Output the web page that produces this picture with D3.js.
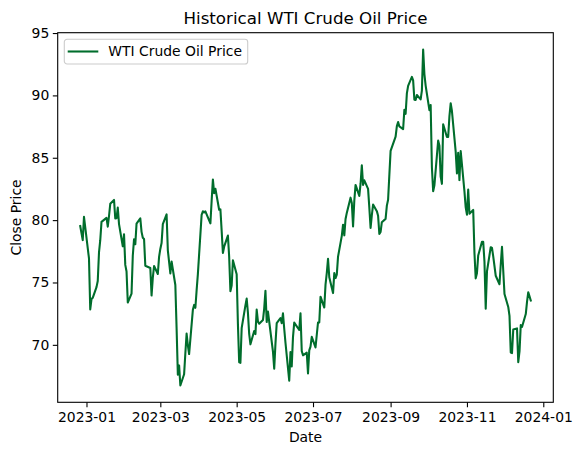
<!DOCTYPE html>
<html>
<head>
<meta charset="utf-8">
<script src="https://cdn.jsdelivr.net/npm/d3@7"></script>
<style>
  body { margin: 0; background: #fff; }
  svg { display: block; font-family: "DejaVu Sans", sans-serif; }
</style>
</head>
<body>
<svg width="581" height="455"></svg>
<script>
// Trading days and closing prices
const dates = [
  "2022-12-27", "2022-12-28", "2022-12-29", "2022-12-30",
  "2023-01-03", "2023-01-04", "2023-01-05", "2023-01-06", "2023-01-09", "2023-01-10", "2023-01-11", "2023-01-12", "2023-01-13", "2023-01-17", "2023-01-18", "2023-01-19", "2023-01-20", "2023-01-23", "2023-01-24", "2023-01-25", "2023-01-26", "2023-01-27", "2023-01-30", "2023-01-31",
  "2023-02-01", "2023-02-02", "2023-02-03", "2023-02-06", "2023-02-07", "2023-02-08", "2023-02-09", "2023-02-10", "2023-02-13", "2023-02-14", "2023-02-15", "2023-02-16", "2023-02-17", "2023-02-21", "2023-02-22", "2023-02-23", "2023-02-24", "2023-02-27", "2023-02-28",
  "2023-03-01", "2023-03-02", "2023-03-03", "2023-03-06", "2023-03-07", "2023-03-08", "2023-03-09", "2023-03-10", "2023-03-13", "2023-03-14", "2023-03-15", "2023-03-16", "2023-03-17", "2023-03-20", "2023-03-21", "2023-03-22", "2023-03-23", "2023-03-24", "2023-03-27", "2023-03-28", "2023-03-29", "2023-03-30", "2023-03-31",
  "2023-04-03", "2023-04-04", "2023-04-05", "2023-04-06", "2023-04-10", "2023-04-11", "2023-04-12", "2023-04-13", "2023-04-14", "2023-04-17", "2023-04-18", "2023-04-19", "2023-04-20", "2023-04-21", "2023-04-24", "2023-04-25", "2023-04-26", "2023-04-27", "2023-04-28",
  "2023-05-01", "2023-05-02", "2023-05-03", "2023-05-04", "2023-05-05", "2023-05-08", "2023-05-09", "2023-05-10", "2023-05-11", "2023-05-12", "2023-05-15", "2023-05-16", "2023-05-17", "2023-05-18", "2023-05-19", "2023-05-22", "2023-05-23", "2023-05-24", "2023-05-25", "2023-05-26", "2023-05-30", "2023-05-31",
  "2023-06-01", "2023-06-02", "2023-06-05", "2023-06-06", "2023-06-07", "2023-06-08", "2023-06-09", "2023-06-12", "2023-06-13", "2023-06-14", "2023-06-15", "2023-06-16", "2023-06-20", "2023-06-21", "2023-06-22", "2023-06-23", "2023-06-26", "2023-06-27", "2023-06-28", "2023-06-29", "2023-06-30",
  "2023-07-03", "2023-07-05", "2023-07-06", "2023-07-07", "2023-07-10", "2023-07-11", "2023-07-12", "2023-07-13", "2023-07-14", "2023-07-17", "2023-07-18", "2023-07-19", "2023-07-20", "2023-07-21", "2023-07-24", "2023-07-25", "2023-07-26", "2023-07-27", "2023-07-28", "2023-07-31",
  "2023-08-01", "2023-08-02", "2023-08-03", "2023-08-04", "2023-08-07", "2023-08-08", "2023-08-09", "2023-08-10", "2023-08-11", "2023-08-14", "2023-08-15", "2023-08-16", "2023-08-17", "2023-08-18", "2023-08-21", "2023-08-22", "2023-08-23", "2023-08-24", "2023-08-25", "2023-08-28", "2023-08-29", "2023-08-30", "2023-08-31",
  "2023-09-01", "2023-09-05", "2023-09-06", "2023-09-07", "2023-09-08", "2023-09-11", "2023-09-12", "2023-09-13", "2023-09-14", "2023-09-15", "2023-09-18", "2023-09-19", "2023-09-20", "2023-09-21", "2023-09-22", "2023-09-25", "2023-09-26", "2023-09-27", "2023-09-28", "2023-09-29",
  "2023-10-02", "2023-10-03", "2023-10-04", "2023-10-05", "2023-10-06", "2023-10-09", "2023-10-10", "2023-10-11", "2023-10-12", "2023-10-13", "2023-10-16", "2023-10-17", "2023-10-18", "2023-10-19", "2023-10-20", "2023-10-23", "2023-10-24", "2023-10-25", "2023-10-26", "2023-10-27", "2023-10-30", "2023-10-31",
  "2023-11-01", "2023-11-02", "2023-11-03", "2023-11-06", "2023-11-07", "2023-11-08", "2023-11-09", "2023-11-10", "2023-11-13", "2023-11-14", "2023-11-15", "2023-11-16", "2023-11-17", "2023-11-20", "2023-11-21", "2023-11-22", "2023-11-24", "2023-11-27", "2023-11-28", "2023-11-29", "2023-11-30",
  "2023-12-01", "2023-12-04", "2023-12-05", "2023-12-06", "2023-12-07", "2023-12-08", "2023-12-11", "2023-12-12", "2023-12-13", "2023-12-14", "2023-12-15", "2023-12-18", "2023-12-19", "2023-12-20", "2023-12-21", "2023-12-22"
];

const closes = [
  79.53, 78.96, 78.40, 80.26,
  76.93, 72.84, 73.67, 73.77, 74.63, 75.12, 77.41, 78.39, 79.86, 80.18, 79.48, 80.33, 81.31, 81.62, 80.13, 80.15, 81.01, 79.68, 77.90, 78.87,
  76.41, 75.88, 73.39, 74.11, 77.14, 78.47, 78.06, 79.72, 80.14, 79.06, 78.59, 78.49, 76.34, 76.16, 73.95, 75.39, 76.32, 75.68, 77.05,
  77.69, 78.16, 79.68, 80.46, 77.58, 76.66, 75.72, 76.68, 74.80, 71.33, 67.61, 68.35, 66.74, 67.64, 69.33, 70.90, 69.96, 69.26, 72.81, 73.20, 72.97, 74.37, 75.67,
  80.42, 80.71, 80.61, 80.70, 79.74, 81.53, 83.26, 82.16, 82.52, 80.83, 80.86, 79.16, 77.37, 77.87, 78.76, 77.07, 74.30, 74.76, 76.78,
  75.66, 71.66, 68.60, 68.56, 71.34, 73.16, 73.71, 72.56, 70.87, 70.04, 71.11, 70.86, 72.83, 71.86, 71.69, 71.99, 72.91, 74.34, 71.83, 72.67, 69.46, 68.09,
  70.10, 71.74, 72.15, 71.74, 72.53, 71.29, 70.17, 67.12, 69.42, 68.27, 70.62, 71.78, 71.19, 72.53, 69.51, 69.16, 69.37, 67.70, 69.56, 69.86, 70.64,
  69.79, 71.79, 71.80, 73.86, 72.99, 74.83, 75.75, 76.89, 75.42, 74.15, 75.75, 75.35, 75.63, 77.07, 78.74, 79.63, 78.78, 80.09, 80.58, 81.80,
  81.37, 79.49, 81.55, 82.82, 81.94, 82.92, 84.40, 82.82, 83.19, 82.51, 80.99, 79.38, 80.39, 81.25, 80.72, 80.35, 78.89, 79.05, 79.83, 80.10, 81.16, 81.63, 83.63,
  85.55, 86.69, 87.54, 87.87, 87.51, 87.29, 88.84, 88.52, 90.16, 90.77, 91.48, 91.20, 89.66, 89.63, 90.03, 89.68, 90.39, 93.68, 91.71, 90.79,
  88.82, 89.23, 84.22, 82.31, 82.79, 86.38, 85.97, 83.49, 82.91, 87.69, 86.66, 86.66, 88.32, 89.37, 88.75, 85.49, 83.74, 85.39, 83.21, 85.54, 82.31, 81.02,
  80.44, 82.46, 80.51, 80.82, 77.37, 75.33, 75.74, 77.17, 78.26, 78.26, 76.66, 72.90, 75.89, 77.83, 77.77, 77.10, 75.54, 74.86, 76.41, 77.86, 75.96,
  74.07, 73.04, 72.32, 69.38, 69.34, 71.23, 71.32, 68.61, 69.47, 71.58, 71.43, 72.47, 73.44, 74.22, 73.89, 73.56
];

const seriesName = "WTI Crude Oil Price";
const lineColor = "#006d2c";

const parseDate = d3.timeParse("%Y-%m-%d");
const data = dates.map((d, i) => ({ date: parseDate(d), close: closes[i] }));

const svg = d3.select("svg");
const margin = { left: 57.7, top: 32.7 };
const width = 495.6;
const height = 369.6;

const g = svg.append("g").attr("transform", `translate(${margin.left},${margin.top})`);

// 5% padding on both ends, like matplotlib's default margins
const xExt = d3.extent(data, (d) => d.date);
const xPad = (xExt[1] - xExt[0]) * 0.05;
const x = d3
  .scaleTime()
  .domain([new Date(+xExt[0] - xPad), new Date(+xExt[1] + xPad)])
  .range([0, width]);

const yExt = d3.extent(data, (d) => d.close);
const yPad = (yExt[1] - yExt[0]) * 0.05;
const y = d3
  .scaleLinear()
  .domain([yExt[0] - yPad, yExt[1] + yPad])
  .range([height, 0]);

// Axes
const xAxis = d3
  .axisBottom(x)
  .ticks(d3.timeMonth.every(2))
  .tickFormat(d3.timeFormat("%Y-%m"))
  .tickSize(4.9)
  .tickPadding(5);

const yAxis = d3
  .axisLeft(y)
  .tickValues([70, 75, 80, 85, 90, 95])
  .tickSize(4.9)
  .tickPadding(3.5);

const gx = g.append("g").attr("transform", `translate(0,${height})`).call(xAxis);
const gy = g.append("g").call(yAxis);

[gx, gy].forEach((ax) => {
  ax.select(".domain").remove();
  ax.selectAll(".tick line").attr("stroke", "#000").attr("stroke-width", 1.1);
  ax.selectAll(".tick text")
    .attr("fill", "#000")
    .style("font-size", "13.9px")
    .style("font-family", "DejaVu Sans");
});

// The line
g.append("path")
  .datum(data)
  .attr("fill", "none")
  .attr("stroke", lineColor)
  .attr("stroke-width", 2.08)
  .attr("stroke-linejoin", "round")
  .attr("stroke-linecap", "square")
  .attr("d", d3.line().x((d) => x(d.date)).y((d) => y(d.close)));

// Frame
g.append("rect")
  .attr("width", width)
  .attr("height", height)
  .attr("fill", "none")
  .attr("stroke", "#000")
  .attr("stroke-width", 1.1);

// Title and labels
svg.append("text")
  .attr("x", margin.left + width / 2)
  .attr("y", 24.3)
  .attr("text-anchor", "middle")
  .style("font-size", "16.7px")
  .text("Historical WTI Crude Oil Price");

svg.append("text")
  .attr("x", margin.left + width / 2)
  .attr("y", 442)
  .attr("text-anchor", "middle")
  .style("font-size", "13.9px")
  .text("Date");

svg.append("text")
  .attr("transform", `translate(20.5,${margin.top + height / 2}) rotate(-90)`)
  .attr("text-anchor", "middle")
  .style("font-size", "13.9px")
  .text("Close Price");

// Legend
const legend = g.append("g").attr("transform", "translate(6.6,6.6)");

legend.append("rect")
  .attr("width", 183.4)
  .attr("height", 24.7)
  .attr("rx", 2.8)
  .attr("fill", "#fff")
  .attr("fill-opacity", 0.8)
  .attr("stroke", "#cccccc")
  .attr("stroke-width", 1.1);

legend.append("line")
  .attr("x1", 3.4)
  .attr("x2", 34)
  .attr("y1", 12.2)
  .attr("y2", 12.2)
  .attr("stroke", lineColor)
  .attr("stroke-width", 2.08);

legend.append("text")
  .attr("x", 44)
  .attr("y", 17)
  .style("font-size", "13.9px")
  .text(seriesName);
</script>
</body>
</html>
